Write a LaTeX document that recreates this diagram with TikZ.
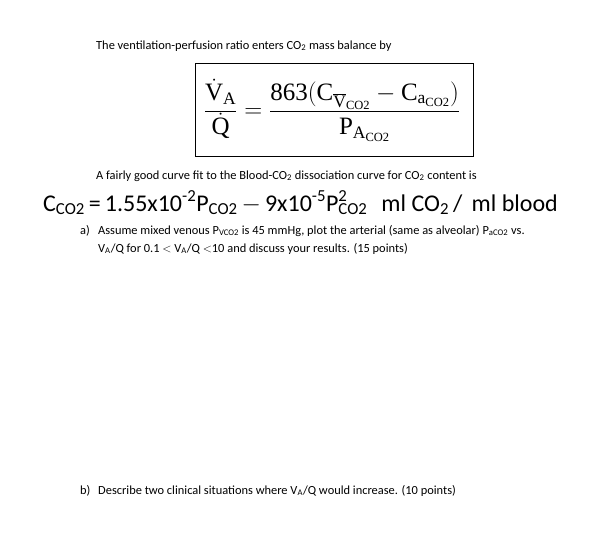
\documentclass[tikz,border=0pt]{standalone}
\usepackage{fontspec}
\setmainfont{Carlito}
\setmathrm{Liberation Serif}
\newfontfamily\tms{Liberation Serif}
\begin{document}
\begin{tikzpicture}[x=1pt,y=-1pt,
  txt/.style={anchor=base west,inner sep=0pt,font=\fontsize{12.4}{14}\selectfont}]
\useasboundingbox (0,0) rectangle (612,547);
\node[txt] (t1) at (96,49) {The ventilation-perfusion ratio enters CO\textsubscript{2} mass balance by};
\draw[line width=0.9pt] (195,63) rectangle (473,156);
\node[inner sep=0pt,font=\fontsize{25}{29}\selectfont] (eq) at (332,110) {$\displaystyle
\frac{\dot{\mathrm V}_{\mathrm A}}{\dot{\mathrm Q}}=\frac{\mathrm{863(C}_{\overline{\mathrm V}_{\mathrm{CO2}}}-\mathrm C_{\mathrm a_{\mathrm{CO2}}}\mathrm{)}}{\mathrm P_{\mathrm A_{\mathrm{CO2}}}}$};
\node[txt] (t2) at (96,179) {A fairly good curve fit to the Blood-CO\textsubscript{2} dissociation curve for CO\textsubscript{2} content is};
\node[anchor=base west,inner sep=0pt,font=\fontsize{24}{28}\selectfont] (big) at (43,211)
 {C\textsubscript{CO2}\,=\,1.55x10\textsuperscript{-2}P\textsubscript{CO2}\,$-$\,9x10\textsuperscript{-5}P\rlap{\textsuperscript{2}}\textsubscript{CO2}\hspace{14pt}ml CO\textsubscript{2}\,/\, ml blood};
\node[txt] (a) at (80,234) {a)};
\node[txt] (a1) at (98,234) {Assume mixed venous P\textsubscript{VCO2} is 45 mmHg, plot the arterial (same as alveolar) P\textsubscript{aCO2} vs.};
\node[txt] (a2) at (98,252) {V\textsubscript{A}/Q for 0.1 $<$ V\textsubscript{A}/Q $<$10 and discuss your results. (15 points)};
\node[txt] (b) at (80,494) {b)};
\node[txt] (b1) at (98,494) {Describe two clinical situations where V\textsubscript{A}/Q would increase. (10 points)};
\end{tikzpicture}
\end{document}
